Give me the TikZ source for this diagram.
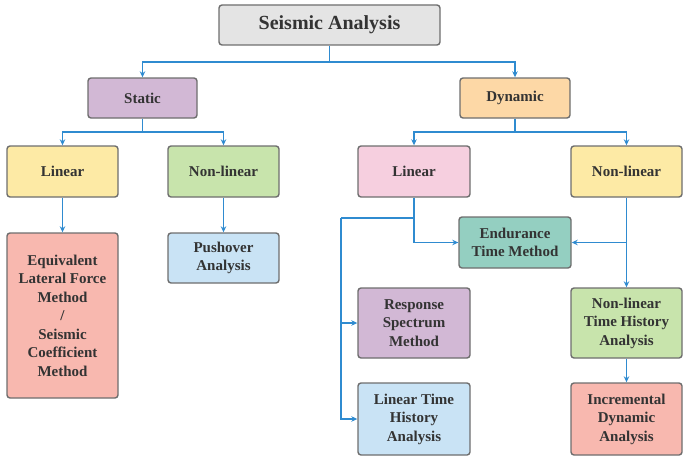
\documentclass[tikz,border=0pt]{standalone}
\usepackage{fontspec}
\setmainfont{Liberation Serif}
\usetikzlibrary{arrows.meta}

\definecolor{boxline}{HTML}{6E6E6E}
\definecolor{txt}{HTML}{333333}
\definecolor{link}{HTML}{2F8BD0}
\definecolor{cgray}{HTML}{E4E4E4}
\definecolor{cpurple}{HTML}{D2B8D5}
\definecolor{corange}{HTML}{FDD8A6}
\definecolor{cyellow}{HTML}{FDEAA5}
\definecolor{cgreen}{HTML}{C8E4AC}
\definecolor{cred}{HTML}{F8B8AF}
\definecolor{cblue}{HTML}{C9E3F5}
\definecolor{cpink}{HTML}{F6CFDF}
\definecolor{cteal}{HTML}{94CFC1}

\begin{document}
\begin{tikzpicture}[x = 1pt, y = -1pt,
  box/.style = {draw = boxline, line width = 1.4pt, rounded corners = 3pt, align = center, text = txt,
    font = \fontsize{15}{18.5}\selectfont\bfseries, inner sep = 2pt},
  sz/.style 2 args = {minimum width = #1pt, minimum height = #2pt},
  wire/.style = {draw = link, line width = 1.7pt},
  arr/.style = {wire, -{Stealth[length = 6pt, width = 5.5pt]}}]
\useasboundingbox (0, 0) rectangle (685, 460);

% levels 1 and 2
\node[box, sz = {221}{40}, fill = cgray, font = \fontsize{20}{24}\selectfont\bfseries] (seismic) at (329.5, 25) {Seismic Analysis};
\node[box, sz = {109}{40}, fill = cpurple] (static) at (142.5, 98) {Static};
\node[box, sz = {110}{40}, fill = corange] (dynamic) at (515, 98) {Dynamic};

% static branch
\node[box, sz = {111}{51}, fill = cyellow] (slin) at (62.5, 171.5) {Linear};
\node[box, sz = {111}{51}, fill = cgreen] (snl) at (223.5, 171.5) {Non-linear};
\node[box, sz = {111}{165}, fill = cred] (elf) at (62.5, 315.5) {Equivalent\\Lateral Force\\Method\\/\\Seismic\\Coefficient\\Method};
\node[box, sz = {111}{50}, fill = cblue] (push) at (223.5, 258) {Pushover\\Analysis};

% dynamic branch
\node[box, sz = {112}{51}, fill = cpink] (dlin) at (414, 171.5) {Linear};
\node[box, sz = {111}{51}, fill = cyellow] (dnl) at (626.5, 171.5) {Non-linear};
\node[box, sz = {112}{51}, fill = cteal] (etm) at (515, 242.5) {Endurance\\Time Method};
\node[box, sz = {112}{70}, fill = cpurple] (rsm) at (414, 323) {Response\\Spectrum\\Method};
\node[box, sz = {112}{72}, fill = cblue] (lth) at (414, 419) {Linear Time\\History\\Analysis};
\node[box, sz = {111}{70}, fill = cgreen] (nlth) at (626.5, 323) {Non-linear\\Time History\\Analysis};
\node[box, sz = {111}{72}, fill = cred] (ida) at (626.5, 419) {Incremental\\Dynamic\\Analysis};

% connectors
\draw[wire] (seismic.south) -- ++(0, 16) coordinate (j0);
\foreach \n in {static, dynamic}{\draw[arr] (j0) -| (\n.north);}
\draw[wire] (static.south) -- ++(0, 13) coordinate (j1);
\foreach \n in {slin, snl}{\draw[arr] (j1) -| (\n.north);}
\draw[wire] (dynamic.south) -- ++(0, 13) coordinate (j2);
\foreach \n in {dlin, dnl}{\draw[arr] (j2) -| (\n.north);}
\draw[arr] (slin) -- (elf);
\draw[arr] (snl) -- (push);

\coordinate (trunk) at (341, 218);
\draw[wire] (dlin.south) -- (dlin.south |- trunk) coordinate (j3) -- (trunk);
\foreach \n in {rsm, lth}{\draw[arr] (trunk) |- (\n.west);}
\draw[arr] (j3) |- (etm.west);
\draw[arr] (dnl) -- (nlth);
\draw[arr] (dnl.south |- etm.east) -- (etm.east);
\draw[arr] (nlth) -- (ida);
\end{tikzpicture}
\end{document}
